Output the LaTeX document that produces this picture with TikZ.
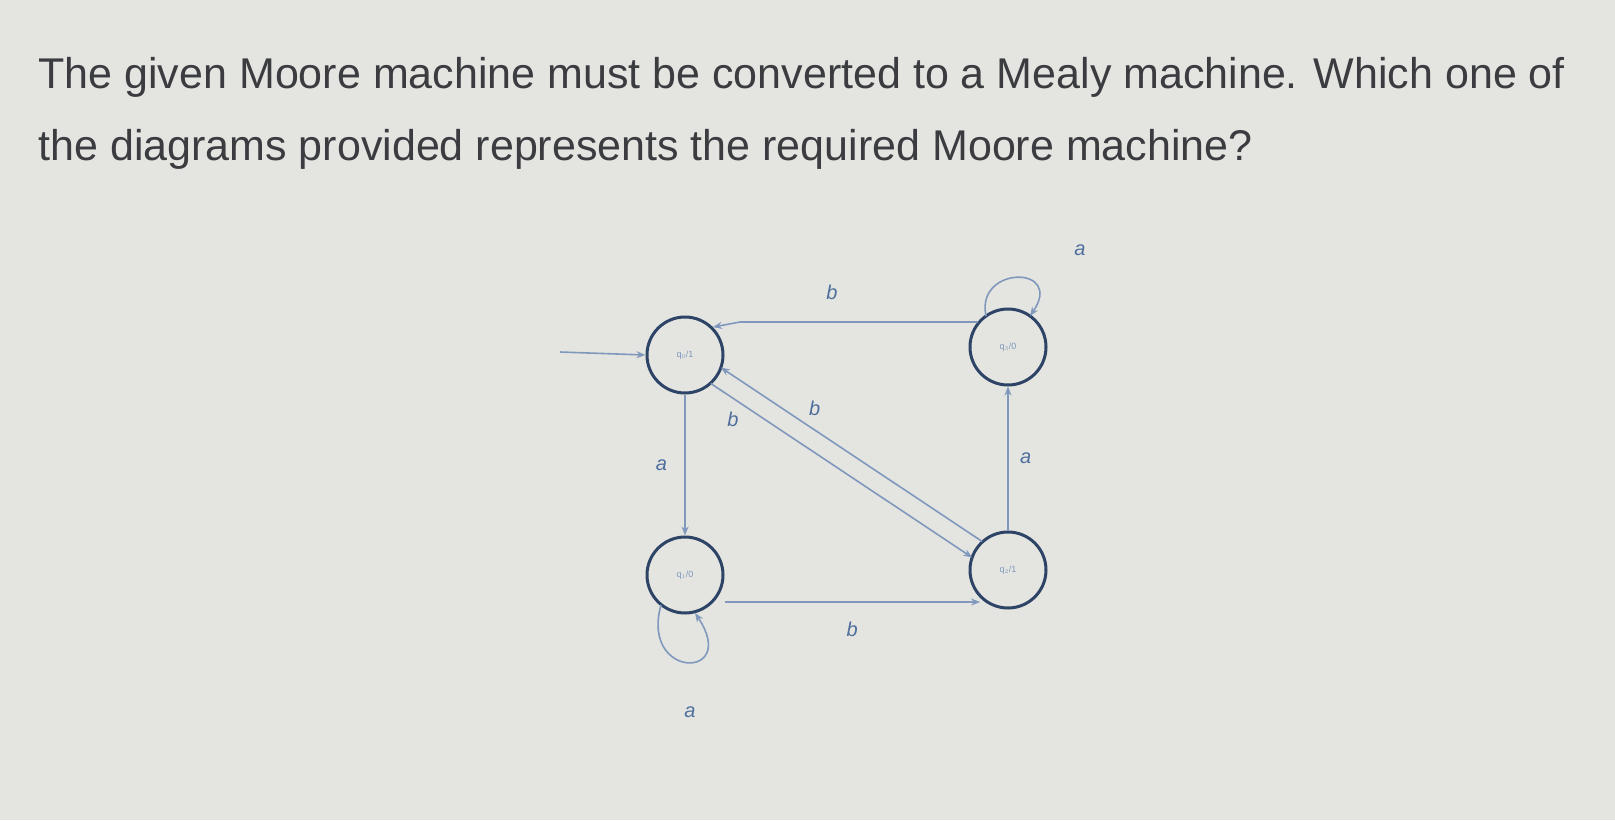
\documentclass[tikz,border=0pt]{standalone}
\usepackage{fontspec}
\setmainfont{Liberation Sans}
\usetikzlibrary{arrows.meta,calc}
\definecolor{bg}{HTML}{E4E5E1}
\definecolor{txt}{HTML}{3A3C40}
\definecolor{ln}{HTML}{7F98BC}
\definecolor{cir}{HTML}{2E4466}
\definecolor{lab}{HTML}{4F6E9C}
\begin{document}
\begin{tikzpicture}[x=1pt,y=-1pt,
  st/.style={circle,draw=cir,line width=3pt,minimum size=76pt,inner sep=0pt,font=\fontsize{9}{9}\selectfont,text=ln},
  tr/.style={draw=ln,line width=1.6pt,-{Stealth[length=9pt,width=7pt]}},
  el/.style={font=\itshape\fontsize{20}{20}\selectfont,text=lab}]
\fill[bg] (0,0) rectangle (1615,820);
\useasboundingbox (0,0) rectangle (1615,820);
\node[anchor=base west,text=txt,font=\fontsize{43}{43}\selectfont] (t1) at (35,88) {The given Moore machine must be converted to a Mealy machine. Which one of};
\node[anchor=base west,text=txt,font=\fontsize{43}{43}\selectfont] (t2) at (35,160) {the diagrams provided represents the required Moore machine?};
\node[st] (q0) at (685,355) {q$_0$/1};
\node[st] (q1) at (685,575) {q$_1$/0};
\node[st] (q3) at (1008,347) {q$_3$/0};
\node[st] (q2) at (1008,570) {q$_2$/1};
\coordinate (s) at (560,352);
\draw[tr] (s) -- (q0.west);
\draw[tr] (q0) -- node[el,left=14pt]{a} (q1);
\draw[tr] (q1.east |- 0,602) -- node[el,below=16pt]{b} (q2.south west |- 0,602);
\draw[tr] (q2) -- node[el,right=8pt]{a} (q3);
\coordinate (ts) at ($(q3.center)+(-30,-25)$);
\draw[tr] (ts) -- (740,322) -- (q0.north east);
\node[el] (lb1) at (832,292) {b};
\draw[tr,shorten <=37pt,shorten >=37pt] ($(q0.center)+(-5,8)$) -- node[el,pos=0.2,below left=2pt]{b} ($(q2.center)+(-5,8)$);
\draw[tr,shorten <=37pt,shorten >=37pt] ($(q2.center)+(5,-8)$) -- node[el,pos=0.65,above right=2pt]{b} ($(q0.center)+(5,-8)$);
\draw[tr] ($(q1.center)+(-24,30)$) .. controls (640,680) and (740,680) .. ($(q1.center)+(10,38)$);
\node[el] (la1) at (690,712) {a};
\draw[tr] ($(q3.center)+(-22,-31)$) .. controls (975,265) and (1065,265) .. ($(q3.center)+(22,-31)$);
\node[el] (la2) at (1080,250) {a};
\end{tikzpicture}
\end{document}
